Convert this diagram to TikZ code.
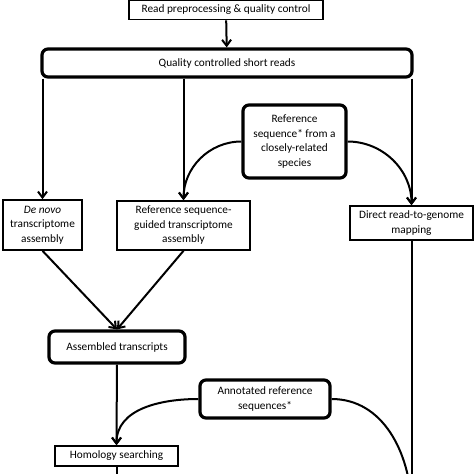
\documentclass[tikz,border=0pt]{standalone}
\usepackage{fontspec}
\setmainfont{Carlito}
\usetikzlibrary{arrows.meta}

\begin{document}
\begin{tikzpicture}[x=1pt, y=-1pt, font=\fontsize{11.3}{14.5}\selectfont, >={Straight Barb[length=6pt, width=9pt]}]
        \tikzstyle{step box}=[draw, rectangle, line width=1.6pt, inner sep=0pt, align=center];
        \tikzstyle{data box}=[draw, rectangle, rounded corners=6pt, line width=3.2pt, inner sep=0pt, align=center];
        \tikzstyle{link}=[line width=2pt];

        \useasboundingbox (0,0) rectangle (474,474);

        \node[step box, minimum width=194pt, minimum height=19pt] (prep) at (226,10) {Read preprocessing \& quality control};
        \node[data box, minimum width=370pt, minimum height=28pt] (reads) at (227,63) {Quality controlled short reads};
        \node[data box, minimum width=103pt, minimum height=73pt] (refseq) at (294.5,141.5) {Reference\\sequence* from a\\closely-related\\species};
        \node[step box, minimum width=79pt, minimum height=50pt] (denovo) at (42.5,225) {\textit{De novo}\\transcriptome\\assembly};
        \node[step box, minimum width=133pt, minimum height=49pt] (guided) at (183.5,225.5) {Reference sequence-\\guided transcriptome\\assembly};
        \node[step box, minimum width=123pt, minimum height=34pt] (direct) at (411.5,223) {Direct read-to-genome\\mapping};
        \node[data box, minimum width=136pt, minimum height=32pt] (assembled) at (117,347) {Assembled transcripts};
        \node[data box, minimum width=130pt, minimum height=38pt] (annot) at (265,399) {Annotated reference\\sequences*};
        \node[step box, minimum width=123pt, minimum height=20pt] (homology) at (116.5,456) {Homology searching};

        % continuation below the visible part
        \coordinate (out1) at (116.5,500);
        \coordinate (out2) at (411.5,500);
        \coordinate (out3) at (411.5,505);

        \draw[link, ->] (prep) -- (reads);
        \draw[link, ->] (reads.south -| denovo.north) -- (denovo.north);
        \draw[link, ->] (reads.south -| guided.north) -- (guided.north);
        \draw[link, ->] (reads.south -| direct.north) -- (direct.north);
        \draw[link, ->] (refseq.west) to[out=180, in=90] (guided.north);
        \draw[link, ->] (refseq.east) to[out=0, in=90] (direct.north);
        \draw[link, ->] (denovo.south) -- (assembled.north);
        \draw[link, ->] (guided.south) -- (assembled.north);
        \draw[link, ->] (assembled) -- (homology);
        \draw[link, ->] (annot.west) to[out=180, in=90] (homology.north);
        \draw[link] (annot.east) to[out=0, in=92] (out3);
        \draw[link] (homology) -- (out1);
        \draw[link] (direct) -- (out2);
    \end{tikzpicture}
\end{document}
